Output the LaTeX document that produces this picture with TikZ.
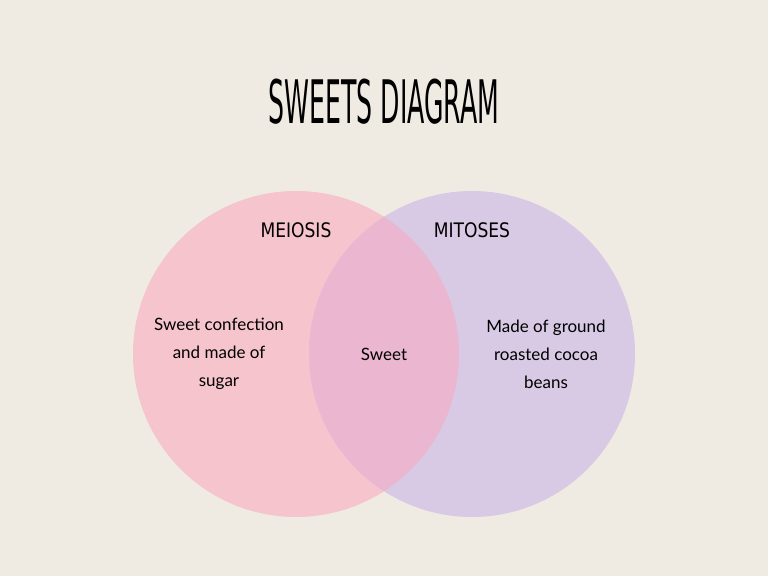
\documentclass[tikz,border=0pt]{standalone}
\usepackage{fontspec}
\setmainfont{Lato}
\newfontfamily\titlefont{DejaVu Sans Condensed}
\definecolor{bg}{HTML}{EFEBE3}
\definecolor{pinkc}{HTML}{F6C4CC}
\definecolor{lavc}{HTML}{D8CAE4}
\definecolor{midc}{HTML}{EBB6CF}
\begin{document}
\begin{tikzpicture}[x=1pt,y=1pt,
  lbl/.style={font=\fontsize{17}{28}\selectfont, align=center, text=black},
  hdr/.style={font=\fontsize{20}{22}\selectfont\titlefont, text=black, xscale=0.95}]
\fill[bg] (0,0) rectangle (768,576);
\useasboundingbox (0,0) rectangle (768,576);
\fill[pinkc] (296,222) circle (163);
\fill[lavc] (472,222) circle (163);
\begin{scope}
\clip (296,222) circle (163);
\fill[midc] (472,222) circle (163);
\end{scope}
\node[font=\fontsize{40}{44}\selectfont\titlefont, xscale=0.7, yscale=1.5] (title) at (384,474) {SWEETS DIAGRAM};
\node[hdr] (m1) at (296,346) {MEIOSIS};
\node[hdr] (m2) at (472,346) {MITOSES};
\node[lbl] (l) at (219,222) {Sweet confection\\and made of\\sugar};
\node[lbl] (c) at (384,222) {Sweet};
\node[lbl] (r) at (546,222) {Made of ground\\roasted cocoa\\beans};
\end{tikzpicture}
\end{document}
